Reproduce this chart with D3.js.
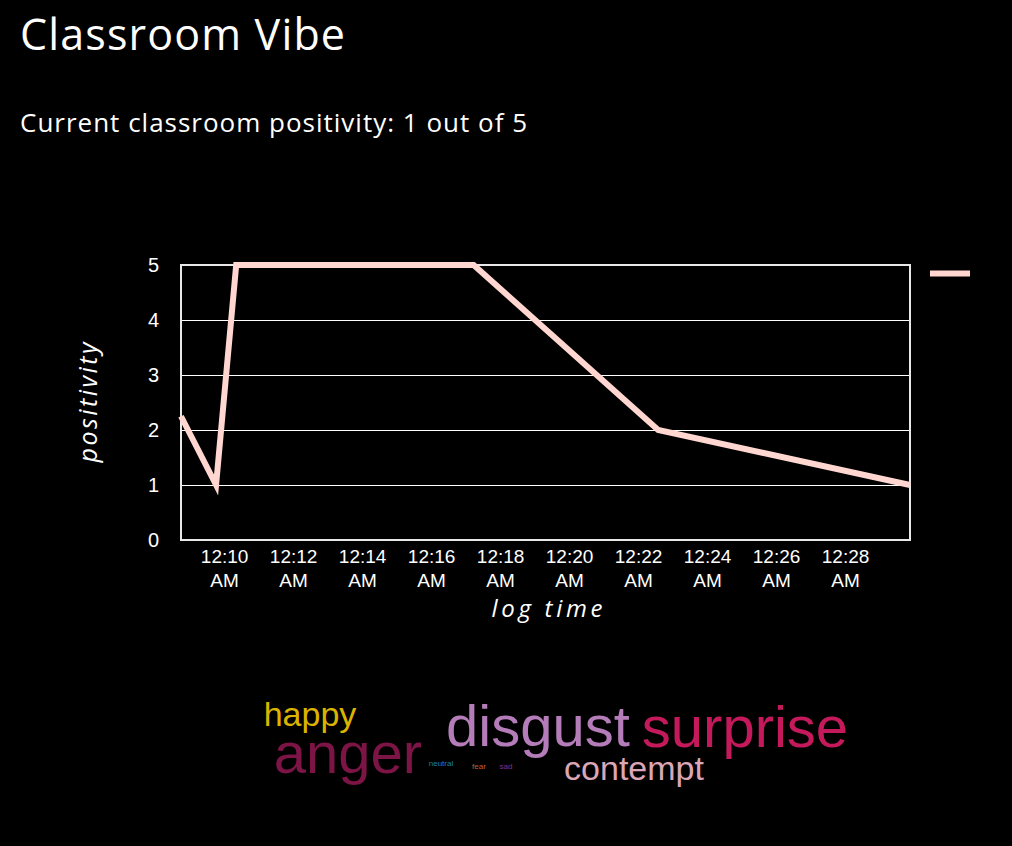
<!DOCTYPE html>
<html>
<head>
<meta charset="utf-8">
<script src="https://cdn.jsdelivr.net/npm/d3@7"></script>
<style>
  html, body { margin: 0; padding: 0; background: #000; }
  svg { display: block; }
</style>
</head>
<body>
<div id="vibe"></div>
<script>
// positivity log
var logTimes = ["00:08:45", "00:09:46", "00:10:21", "00:17:14", "00:22:35", "00:29:53"];
var positivity = [2.25, 1, 5, 5, 2, 1];
var yTicks = [0, 1, 2, 3, 4, 5];

// emotion word cloud
var emotions = ["happy", "anger", "disgust", "surprise", "contempt", "neutral", "fear", "sad"];
var emotionCounts = [17, 29, 29, 29, 17, 4, 4, 4];
var emotionColors = ["#dcb400", "#7c1446", "#b47cb8", "#c41a5c", "#dba6b6", "#1a80b4", "#c0602e", "#862f94"];
// where each word landed in the cloud (center x, baseline y)
var cloudSpots = [[310, 726], [348, 773], [538, 746], [745, 747], [634, 780], [441, 766], [479, 769], [506, 769]];

var lineColor = "#ffd6d0";

var W = 1012, H = 846;
var svg = d3.select("#vibe").append("svg")
    .attr("width", W)
    .attr("height", H);

var headFont = "'Open Sans', sans-serif";
var chartFont = "'Liberation Sans', Arial, sans-serif";

// page header
svg.append("text")
    .attr("x", 20).attr("y", 50)
    .attr("fill", "#fff")
    .attr("font-family", headFont)
    .attr("font-size", 43)
    .attr("textLength", 325)
    .attr("lengthAdjust", "spacing")
    .text("Classroom Vibe");

svg.append("text")
    .attr("x", 20).attr("y", 132)
    .attr("fill", "#fff")
    .attr("font-family", headFont)
    .attr("font-size", 26)
    .attr("textLength", 507)
    .attr("lengthAdjust", "spacing")
    .text("Current classroom positivity: " + positivity[positivity.length - 1] + " out of 5");

// chart area
var plot = {left: 181, top: 265, right: 910, bottom: 540};
var parseTime = d3.timeParse("%H:%M:%S");
var data = logTimes.map(function(t, i) {
    return {time: parseTime(t), value: positivity[i]};
});

var x = d3.scaleTime()
    .domain(d3.extent(data, function(d) { return d.time; }))
    .range([plot.left, plot.right]);
var y = d3.scaleLinear()
    .domain([0, 5])
    .range([plot.bottom, plot.top]);

// gridlines
svg.append("g")
    .selectAll("line")
    .data(yTicks)
    .enter()
    .append("line")
    .attr("x1", plot.left).attr("x2", plot.right)
    .attr("y1", function(d) { return y(d); })
    .attr("y2", function(d) { return y(d); })
    .attr("stroke", "#fff")
    .attr("stroke-width", 1)
    .attr("shape-rendering", "crispEdges");

svg.append("rect")
    .attr("x", plot.left).attr("y", plot.top)
    .attr("width", plot.right - plot.left)
    .attr("height", plot.bottom - plot.top)
    .attr("fill", "none")
    .attr("stroke", "#e8e8e8")
    .attr("stroke-width", 2)
    .attr("shape-rendering", "crispEdges");

// y axis
var yAxis = svg.append("g")
    .attr("transform", "translate(" + plot.left + ",0)")
    .call(d3.axisLeft(y).tickValues(yTicks).tickSize(0).tickPadding(22).tickFormat(d3.format("d")));
yAxis.select(".domain").remove();
yAxis.selectAll("text")
    .attr("fill", "#fff")
    .attr("font-family", chartFont)
    .attr("font-size", 20);

// x axis, two-line labels
var fmtClock = d3.timeFormat("%-I:%M"), fmtAmPm = d3.timeFormat("%p");
var xAxis = svg.append("g")
    .attr("transform", "translate(0," + plot.bottom + ")")
    .call(d3.axisBottom(x).ticks(d3.timeMinute.every(2)).tickSize(0).tickFormat(""));
xAxis.select(".domain").remove();
xAxis.selectAll(".tick text").remove();
xAxis.selectAll(".tick").each(function(d) {
    var t = d3.select(this).append("text")
        .attr("fill", "#fff")
        .attr("font-family", chartFont)
        .attr("font-size", 19)
        .attr("text-anchor", "middle");
    t.append("tspan").attr("x", 0).attr("y", 23).text(fmtClock(d));
    t.append("tspan").attr("x", 0).attr("y", 47).text(fmtAmPm(d));
});

// axis titles
svg.append("text")
    .attr("transform", "translate(97," + ((plot.top + plot.bottom) / 2) + ") rotate(-90)")
    .attr("text-anchor", "middle")
    .attr("fill", "#fff")
    .attr("font-family", headFont)
    .attr("font-style", "italic")
    .attr("font-size", 25)
    .attr("textLength", 120)
    .attr("lengthAdjust", "spacing")
    .text("positivity");

svg.append("text")
    .attr("x", 547).attr("y", 617)
    .attr("text-anchor", "middle")
    .attr("fill", "#fff")
    .attr("font-family", headFont)
    .attr("font-style", "italic")
    .attr("font-size", 24)
    .attr("textLength", 111)
    .attr("lengthAdjust", "spacing")
    .text("log time");

// the positivity line
var line = d3.line()
    .x(function(d) { return x(d.time); })
    .y(function(d) { return y(d.value); });

svg.append("path")
    .datum(data)
    .attr("d", line)
    .attr("fill", "none")
    .attr("stroke", lineColor)
    .attr("stroke-width", 6)
    .attr("stroke-linejoin", "miter");

// legend swatch (series has no label)
svg.append("line")
    .attr("x1", 930).attr("x2", 970)
    .attr("y1", 273.5).attr("y2", 273.5)
    .attr("stroke", lineColor)
    .attr("stroke-width", 6);

// word cloud
var wordSize = d3.scaleLinear()
    .domain([0, d3.max(emotionCounts)])
    .range([0, 58]);

svg.append("g")
    .selectAll("text")
    .data(emotions)
    .enter()
    .append("text")
    .attr("x", function(d, i) { return cloudSpots[i][0]; })
    .attr("y", function(d, i) { return cloudSpots[i][1]; })
    .attr("text-anchor", "middle")
    .attr("font-family", chartFont)
    .attr("font-size", function(d, i) { return wordSize(emotionCounts[i]); })
    .attr("fill", function(d, i) { return emotionColors[i]; })
    .text(function(d) { return d; });
</script>
</body>
</html>
